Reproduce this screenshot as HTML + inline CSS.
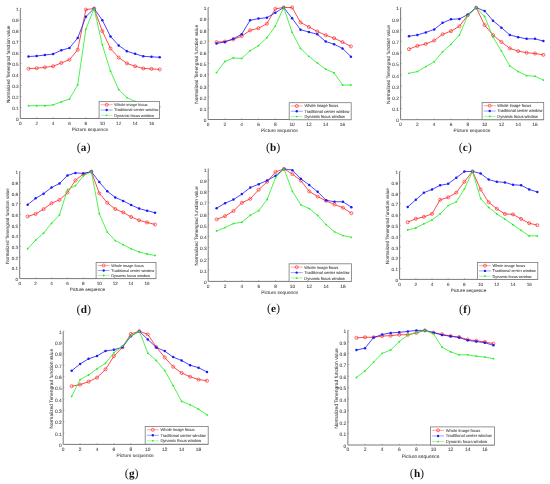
<!DOCTYPE html>
<html><head><meta charset="utf-8"><style>
html,body{margin:0;padding:0;background:#fff;}
svg{display:block;}
text{font-family:"Liberation Sans",Arial,sans-serif;fill:#3c3c3c;stroke:#3c3c3c;stroke-width:0.06px;text-rendering:geometricPrecision;}
text.lab{font-family:"Liberation Serif","Times New Roman",serif;font-weight:bold;font-size:11.2px;fill:#111;stroke:none;}
tspan.par{font-weight:normal;font-size:12.2px;fill:#222;}
</style></head><body>
<svg width="550" height="484" viewBox="0 0 550 484">
<rect width="550" height="484" fill="#fff"/>
<g id="pa"><path d="M20.3 8.5V118.5H159.5" fill="none" stroke="#7a7a7a" stroke-width="1"/><path d="M20.3 107.5h1.2M20.3 96.5h1.2M20.3 85.5h1.2M20.3 74.5h1.2M20.3 63.5h1.2M20.3 52.5h1.2M20.3 41.5h1.2M20.3 30.5h1.2M20.3 19.5h1.2M20.3 8.5h1.2M36.7 118.5v-1.2M53.1 118.5v-1.2M69.5 118.5v-1.2M85.9 118.5v-1.2M102.3 118.5v-1.2M118.7 118.5v-1.2M135.1 118.5v-1.2M151.5 118.5v-1.2" stroke="#7a7a7a" stroke-width="0.6"/><g text-anchor="end" font-size="4.71"><text x="18.7" y="121.09">0</text><text x="18.7" y="110.09">0.1</text><text x="18.7" y="99.09">0.2</text><text x="18.7" y="88.09">0.3</text><text x="18.7" y="77.09">0.4</text><text x="18.7" y="66.09">0.5</text><text x="18.7" y="55.09">0.6</text><text x="18.7" y="44.09">0.7</text><text x="18.7" y="33.09">0.8</text><text x="18.7" y="22.09">0.9</text><text x="18.7" y="11.09">1</text></g><g text-anchor="middle" font-size="4.71"><text x="20.3" y="124.79">0</text><text x="36.7" y="124.79">2</text><text x="53.1" y="124.79">4</text><text x="69.5" y="124.79">6</text><text x="85.9" y="124.79">8</text><text x="102.3" y="124.79">10</text><text x="118.7" y="124.79">12</text><text x="135.1" y="124.79">14</text><text x="151.5" y="124.79">16</text></g><text x="90" y="131.19" text-anchor="middle" font-size="4.71">Picture sequence</text><text transform="translate(8.2 64.3) rotate(-90)" y="1.69" text-anchor="middle" font-size="4.71">Normalized Tenengrad function value</text><polyline points="28.5,68.67 36.7,68.23 44.9,67.35 53.1,66.25 61.3,62.95 69.5,59.65 77.7,49.75 85.9,9.6 94.1,8.5 102.3,31.05 110.5,48.54 118.7,57.56 126.9,63.39 135.1,66.25 143.3,68.45 151.5,68.89 159.7,69.44" fill="none" stroke="#ff2020" stroke-width="0.8"/><circle cx="28.5" cy="68.67" r="1.55" fill="none" stroke="#ff2020" stroke-width="0.65"/><circle cx="36.7" cy="68.23" r="1.55" fill="none" stroke="#ff2020" stroke-width="0.65"/><circle cx="44.9" cy="67.35" r="1.55" fill="none" stroke="#ff2020" stroke-width="0.65"/><circle cx="53.1" cy="66.25" r="1.55" fill="none" stroke="#ff2020" stroke-width="0.65"/><circle cx="61.3" cy="62.95" r="1.55" fill="none" stroke="#ff2020" stroke-width="0.65"/><circle cx="69.5" cy="59.65" r="1.55" fill="none" stroke="#ff2020" stroke-width="0.65"/><circle cx="77.7" cy="49.75" r="1.55" fill="none" stroke="#ff2020" stroke-width="0.65"/><circle cx="85.9" cy="9.6" r="1.55" fill="none" stroke="#ff2020" stroke-width="0.65"/><circle cx="94.1" cy="8.5" r="1.55" fill="none" stroke="#ff2020" stroke-width="0.65"/><circle cx="102.3" cy="31.05" r="1.55" fill="none" stroke="#ff2020" stroke-width="0.65"/><circle cx="110.5" cy="48.54" r="1.55" fill="none" stroke="#ff2020" stroke-width="0.65"/><circle cx="118.7" cy="57.56" r="1.55" fill="none" stroke="#ff2020" stroke-width="0.65"/><circle cx="126.9" cy="63.39" r="1.55" fill="none" stroke="#ff2020" stroke-width="0.65"/><circle cx="135.1" cy="66.25" r="1.55" fill="none" stroke="#ff2020" stroke-width="0.65"/><circle cx="143.3" cy="68.45" r="1.55" fill="none" stroke="#ff2020" stroke-width="0.65"/><circle cx="151.5" cy="68.89" r="1.55" fill="none" stroke="#ff2020" stroke-width="0.65"/><circle cx="159.7" cy="69.44" r="1.55" fill="none" stroke="#ff2020" stroke-width="0.65"/><polyline points="28.5,56.57 36.7,56.02 44.9,55.03 53.1,54.04 61.3,50.3 69.5,47.88 77.7,38.09 85.9,16.64 94.1,8.5 102.3,20.16 110.5,36.44 118.7,45.46 126.9,51.29 135.1,53.82 143.3,56.35 151.5,56.79 159.7,57.34" fill="none" stroke="#1a1aff" stroke-width="0.8"/><circle cx="28.5" cy="56.57" r="1.25" fill="#1a1aff"/><circle cx="36.7" cy="56.02" r="1.25" fill="#1a1aff"/><circle cx="44.9" cy="55.03" r="1.25" fill="#1a1aff"/><circle cx="53.1" cy="54.04" r="1.25" fill="#1a1aff"/><circle cx="61.3" cy="50.3" r="1.25" fill="#1a1aff"/><circle cx="69.5" cy="47.88" r="1.25" fill="#1a1aff"/><circle cx="77.7" cy="38.09" r="1.25" fill="#1a1aff"/><circle cx="85.9" cy="16.64" r="1.25" fill="#1a1aff"/><circle cx="94.1" cy="8.5" r="1.25" fill="#1a1aff"/><circle cx="102.3" cy="20.16" r="1.25" fill="#1a1aff"/><circle cx="110.5" cy="36.44" r="1.25" fill="#1a1aff"/><circle cx="118.7" cy="45.46" r="1.25" fill="#1a1aff"/><circle cx="126.9" cy="51.29" r="1.25" fill="#1a1aff"/><circle cx="135.1" cy="53.82" r="1.25" fill="#1a1aff"/><circle cx="143.3" cy="56.35" r="1.25" fill="#1a1aff"/><circle cx="151.5" cy="56.79" r="1.25" fill="#1a1aff"/><circle cx="159.7" cy="57.34" r="1.25" fill="#1a1aff"/><polyline points="28.5,105.74 36.7,105.74 44.9,105.74 53.1,104.86 61.3,101.89 69.5,99.03 77.7,84.95 85.9,29.18 94.1,8.5 102.3,44.8 110.5,71.2 118.7,89.57 126.9,97.6 135.1,101.45 143.3,104.2 151.5,105.85 159.7,106.73" fill="none" stroke="#22ee22" stroke-width="0.8"/><circle cx="28.5" cy="105.74" r="0.9" fill="#22ee22"/><circle cx="36.7" cy="105.74" r="0.9" fill="#22ee22"/><circle cx="44.9" cy="105.74" r="0.9" fill="#22ee22"/><circle cx="53.1" cy="104.86" r="0.9" fill="#22ee22"/><circle cx="61.3" cy="101.89" r="0.9" fill="#22ee22"/><circle cx="69.5" cy="99.03" r="0.9" fill="#22ee22"/><circle cx="77.7" cy="84.95" r="0.9" fill="#22ee22"/><circle cx="85.9" cy="29.18" r="0.9" fill="#22ee22"/><circle cx="94.1" cy="8.5" r="0.9" fill="#22ee22"/><circle cx="102.3" cy="44.8" r="0.9" fill="#22ee22"/><circle cx="110.5" cy="71.2" r="0.9" fill="#22ee22"/><circle cx="118.7" cy="89.57" r="0.9" fill="#22ee22"/><circle cx="126.9" cy="97.6" r="0.9" fill="#22ee22"/><circle cx="135.1" cy="101.45" r="0.9" fill="#22ee22"/><circle cx="143.3" cy="104.2" r="0.9" fill="#22ee22"/><circle cx="151.5" cy="105.85" r="0.9" fill="#22ee22"/><circle cx="159.7" cy="106.73" r="0.9" fill="#22ee22"/><rect x="99.1" y="101.5" width="60.4" height="17.1" fill="#fff" stroke="#7a7a7a" stroke-width="0.8"/><path d="M100.7 104.75H112.7" stroke="#ff2020" stroke-width="0.5" stroke-opacity="0.8"/><circle cx="106.7" cy="104.75" r="1.5" fill="none" stroke="#ff2020" stroke-width="0.65"/><text x="114.3" y="106.16" font-size="3.91">Whole image focus</text><path d="M100.7 110.05H112.7" stroke="#1a1aff" stroke-width="0.5" stroke-opacity="0.8"/><circle cx="106.7" cy="110.05" r="1.2" fill="#1a1aff"/><text x="114.3" y="111.46" font-size="3.91">Traditional center window</text><path d="M100.7 115.35H112.7" stroke="#22ee22" stroke-width="0.5" stroke-opacity="0.8"/><circle cx="106.7" cy="115.35" r="0.9" fill="#22ee22"/><text x="114.3" y="116.76" font-size="3.91">Dynamic focus window</text><text x="83.6" y="150.8" text-anchor="middle" class="lab"><tspan class="par">(</tspan>a<tspan class="par">)</tspan></text></g>
<g id="pb"><path d="M208.1 7.5V119.5H351.2" fill="none" stroke="#7a7a7a" stroke-width="1"/><path d="M208.1 108.3h1.2M208.1 97.1h1.2M208.1 85.9h1.2M208.1 74.7h1.2M208.1 63.5h1.2M208.1 52.3h1.2M208.1 41.1h1.2M208.1 29.9h1.2M208.1 18.7h1.2M208.1 7.5h1.2M224.9 119.5v-1.2M241.7 119.5v-1.2M258.5 119.5v-1.2M275.3 119.5v-1.2M292.1 119.5v-1.2M308.9 119.5v-1.2M325.7 119.5v-1.2M342.5 119.5v-1.2" stroke="#7a7a7a" stroke-width="0.6"/><g text-anchor="end" font-size="4.79"><text x="206.5" y="122.13">0</text><text x="206.5" y="110.93">0.1</text><text x="206.5" y="99.73">0.2</text><text x="206.5" y="88.53">0.3</text><text x="206.5" y="77.33">0.4</text><text x="206.5" y="66.13">0.5</text><text x="206.5" y="54.93">0.6</text><text x="206.5" y="43.73">0.7</text><text x="206.5" y="32.53">0.8</text><text x="206.5" y="21.33">0.9</text><text x="206.5" y="10.13">1</text></g><g text-anchor="middle" font-size="4.79"><text x="208.1" y="125.83">0</text><text x="224.9" y="125.83">2</text><text x="241.7" y="125.83">4</text><text x="258.5" y="125.83">6</text><text x="275.3" y="125.83">8</text><text x="292.1" y="125.83">10</text><text x="308.9" y="125.83">12</text><text x="325.7" y="125.83">14</text><text x="342.5" y="125.83">16</text></g><text x="279.5" y="132.23" text-anchor="middle" font-size="4.79">Picture sequence</text><text transform="translate(196 64.3) rotate(-90)" y="1.73" text-anchor="middle" font-size="4.79">Normalized Tenengrad function value</text><polyline points="216.5,42.11 224.9,41.55 233.3,39.42 241.7,36.06 250.1,30.35 258.5,28.22 266.9,23.74 275.3,8.84 283.7,7.5 292.1,7.5 300.5,22.4 308.9,26.99 317.3,31.47 325.7,35.16 334.1,38.19 342.5,42.11 350.9,46.36" fill="none" stroke="#ff2020" stroke-width="0.8"/><circle cx="216.5" cy="42.11" r="1.55" fill="none" stroke="#ff2020" stroke-width="0.65"/><circle cx="224.9" cy="41.55" r="1.55" fill="none" stroke="#ff2020" stroke-width="0.65"/><circle cx="233.3" cy="39.42" r="1.55" fill="none" stroke="#ff2020" stroke-width="0.65"/><circle cx="241.7" cy="36.06" r="1.55" fill="none" stroke="#ff2020" stroke-width="0.65"/><circle cx="250.1" cy="30.35" r="1.55" fill="none" stroke="#ff2020" stroke-width="0.65"/><circle cx="258.5" cy="28.22" r="1.55" fill="none" stroke="#ff2020" stroke-width="0.65"/><circle cx="266.9" cy="23.74" r="1.55" fill="none" stroke="#ff2020" stroke-width="0.65"/><circle cx="275.3" cy="8.84" r="1.55" fill="none" stroke="#ff2020" stroke-width="0.65"/><circle cx="283.7" cy="7.5" r="1.55" fill="none" stroke="#ff2020" stroke-width="0.65"/><circle cx="292.1" cy="7.5" r="1.55" fill="none" stroke="#ff2020" stroke-width="0.65"/><circle cx="300.5" cy="22.4" r="1.55" fill="none" stroke="#ff2020" stroke-width="0.65"/><circle cx="308.9" cy="26.99" r="1.55" fill="none" stroke="#ff2020" stroke-width="0.65"/><circle cx="317.3" cy="31.47" r="1.55" fill="none" stroke="#ff2020" stroke-width="0.65"/><circle cx="325.7" cy="35.16" r="1.55" fill="none" stroke="#ff2020" stroke-width="0.65"/><circle cx="334.1" cy="38.19" r="1.55" fill="none" stroke="#ff2020" stroke-width="0.65"/><circle cx="342.5" cy="42.11" r="1.55" fill="none" stroke="#ff2020" stroke-width="0.65"/><circle cx="350.9" cy="46.36" r="1.55" fill="none" stroke="#ff2020" stroke-width="0.65"/><polyline points="216.5,43.56 224.9,41.88 233.3,38.86 241.7,34.16 250.1,20.27 258.5,18.59 266.9,17.69 275.3,12.76 283.7,7.5 292.1,18.25 300.5,29.68 308.9,32.03 317.3,34.27 325.7,41.55 334.1,44.24 342.5,48.38 350.9,56.67" fill="none" stroke="#1a1aff" stroke-width="0.8"/><circle cx="216.5" cy="43.56" r="1.25" fill="#1a1aff"/><circle cx="224.9" cy="41.88" r="1.25" fill="#1a1aff"/><circle cx="233.3" cy="38.86" r="1.25" fill="#1a1aff"/><circle cx="241.7" cy="34.16" r="1.25" fill="#1a1aff"/><circle cx="250.1" cy="20.27" r="1.25" fill="#1a1aff"/><circle cx="258.5" cy="18.59" r="1.25" fill="#1a1aff"/><circle cx="266.9" cy="17.69" r="1.25" fill="#1a1aff"/><circle cx="275.3" cy="12.76" r="1.25" fill="#1a1aff"/><circle cx="283.7" cy="7.5" r="1.25" fill="#1a1aff"/><circle cx="292.1" cy="18.25" r="1.25" fill="#1a1aff"/><circle cx="300.5" cy="29.68" r="1.25" fill="#1a1aff"/><circle cx="308.9" cy="32.03" r="1.25" fill="#1a1aff"/><circle cx="317.3" cy="34.27" r="1.25" fill="#1a1aff"/><circle cx="325.7" cy="41.55" r="1.25" fill="#1a1aff"/><circle cx="334.1" cy="44.24" r="1.25" fill="#1a1aff"/><circle cx="342.5" cy="48.38" r="1.25" fill="#1a1aff"/><circle cx="350.9" cy="56.67" r="1.25" fill="#1a1aff"/><polyline points="216.5,72.57 224.9,61.48 233.3,58.01 241.7,58.46 250.1,50.73 258.5,45.69 266.9,37.74 275.3,26.09 283.7,7.5 292.1,32.36 300.5,48.38 308.9,56.33 317.3,62.94 325.7,69.21 334.1,72.91 342.5,85 350.9,85" fill="none" stroke="#22ee22" stroke-width="0.8"/><circle cx="216.5" cy="72.57" r="0.9" fill="#22ee22"/><circle cx="224.9" cy="61.48" r="0.9" fill="#22ee22"/><circle cx="233.3" cy="58.01" r="0.9" fill="#22ee22"/><circle cx="241.7" cy="58.46" r="0.9" fill="#22ee22"/><circle cx="250.1" cy="50.73" r="0.9" fill="#22ee22"/><circle cx="258.5" cy="45.69" r="0.9" fill="#22ee22"/><circle cx="266.9" cy="37.74" r="0.9" fill="#22ee22"/><circle cx="275.3" cy="26.09" r="0.9" fill="#22ee22"/><circle cx="283.7" cy="7.5" r="0.9" fill="#22ee22"/><circle cx="292.1" cy="32.36" r="0.9" fill="#22ee22"/><circle cx="300.5" cy="48.38" r="0.9" fill="#22ee22"/><circle cx="308.9" cy="56.33" r="0.9" fill="#22ee22"/><circle cx="317.3" cy="62.94" r="0.9" fill="#22ee22"/><circle cx="325.7" cy="69.21" r="0.9" fill="#22ee22"/><circle cx="334.1" cy="72.91" r="0.9" fill="#22ee22"/><circle cx="342.5" cy="85" r="0.9" fill="#22ee22"/><circle cx="350.9" cy="85" r="0.9" fill="#22ee22"/><rect x="289.2" y="102.7" width="62" height="17.1" fill="#fff" stroke="#7a7a7a" stroke-width="0.8"/><path d="M290.8 105.95H302.8" stroke="#ff2020" stroke-width="0.5" stroke-opacity="0.8"/><circle cx="296.8" cy="105.95" r="1.5" fill="none" stroke="#ff2020" stroke-width="0.65"/><text x="304.4" y="107.38" font-size="3.99">Whole image focus</text><path d="M290.8 111.25H302.8" stroke="#1a1aff" stroke-width="0.5" stroke-opacity="0.8"/><circle cx="296.8" cy="111.25" r="1.2" fill="#1a1aff"/><text x="304.4" y="112.68" font-size="3.99">Traditional center window</text><path d="M290.8 116.55H302.8" stroke="#22ee22" stroke-width="0.5" stroke-opacity="0.8"/><circle cx="296.8" cy="116.55" r="0.9" fill="#22ee22"/><text x="304.4" y="117.99" font-size="3.99">Dynamic focus window</text><text x="273.2" y="150.8" text-anchor="middle" class="lab"><tspan class="par">(</tspan>b<tspan class="par">)</tspan></text></g>
<g id="pc"><path d="M400.6 7.7V119.7H543.7" fill="none" stroke="#7a7a7a" stroke-width="1"/><path d="M400.6 108.5h1.2M400.6 97.3h1.2M400.6 86.1h1.2M400.6 74.9h1.2M400.6 63.7h1.2M400.6 52.5h1.2M400.6 41.3h1.2M400.6 30.1h1.2M400.6 18.9h1.2M400.6 7.7h1.2M417.4 119.7v-1.2M434.2 119.7v-1.2M451 119.7v-1.2M467.8 119.7v-1.2M484.6 119.7v-1.2M501.4 119.7v-1.2M518.2 119.7v-1.2M535 119.7v-1.2" stroke="#7a7a7a" stroke-width="0.6"/><g text-anchor="end" font-size="4.79"><text x="399" y="122.33">0</text><text x="399" y="111.13">0.1</text><text x="399" y="99.93">0.2</text><text x="399" y="88.73">0.3</text><text x="399" y="77.53">0.4</text><text x="399" y="66.33">0.5</text><text x="399" y="55.13">0.6</text><text x="399" y="43.93">0.7</text><text x="399" y="32.73">0.8</text><text x="399" y="21.53">0.9</text><text x="399" y="10.33">1</text></g><g text-anchor="middle" font-size="4.79"><text x="400.6" y="126.03">0</text><text x="417.4" y="126.03">2</text><text x="434.2" y="126.03">4</text><text x="451" y="126.03">6</text><text x="467.8" y="126.03">8</text><text x="484.6" y="126.03">10</text><text x="501.4" y="126.03">12</text><text x="518.2" y="126.03">14</text><text x="535" y="126.03">16</text></g><text x="472" y="132.43" text-anchor="middle" font-size="4.79">Picture sequence</text><text transform="translate(388.5 64.5) rotate(-90)" y="1.73" text-anchor="middle" font-size="4.79">Normalized Tenengrad function value</text><polyline points="409,49.14 417.4,45.89 425.8,43.88 434.2,40.52 442.6,34.24 451,31.11 459.4,26.29 467.8,15.2 476.2,7.7 484.6,25.06 493,35.14 501.4,41.97 509.8,48.36 518.2,51.16 526.6,52.72 535,53.51 543.4,54.85" fill="none" stroke="#ff2020" stroke-width="0.8"/><circle cx="409" cy="49.14" r="1.55" fill="none" stroke="#ff2020" stroke-width="0.65"/><circle cx="417.4" cy="45.89" r="1.55" fill="none" stroke="#ff2020" stroke-width="0.65"/><circle cx="425.8" cy="43.88" r="1.55" fill="none" stroke="#ff2020" stroke-width="0.65"/><circle cx="434.2" cy="40.52" r="1.55" fill="none" stroke="#ff2020" stroke-width="0.65"/><circle cx="442.6" cy="34.24" r="1.55" fill="none" stroke="#ff2020" stroke-width="0.65"/><circle cx="451" cy="31.11" r="1.55" fill="none" stroke="#ff2020" stroke-width="0.65"/><circle cx="459.4" cy="26.29" r="1.55" fill="none" stroke="#ff2020" stroke-width="0.65"/><circle cx="467.8" cy="15.2" r="1.55" fill="none" stroke="#ff2020" stroke-width="0.65"/><circle cx="476.2" cy="7.7" r="1.55" fill="none" stroke="#ff2020" stroke-width="0.65"/><circle cx="484.6" cy="25.06" r="1.55" fill="none" stroke="#ff2020" stroke-width="0.65"/><circle cx="493" cy="35.14" r="1.55" fill="none" stroke="#ff2020" stroke-width="0.65"/><circle cx="501.4" cy="41.97" r="1.55" fill="none" stroke="#ff2020" stroke-width="0.65"/><circle cx="509.8" cy="48.36" r="1.55" fill="none" stroke="#ff2020" stroke-width="0.65"/><circle cx="518.2" cy="51.16" r="1.55" fill="none" stroke="#ff2020" stroke-width="0.65"/><circle cx="526.6" cy="52.72" r="1.55" fill="none" stroke="#ff2020" stroke-width="0.65"/><circle cx="535" cy="53.51" r="1.55" fill="none" stroke="#ff2020" stroke-width="0.65"/><circle cx="543.4" cy="54.85" r="1.55" fill="none" stroke="#ff2020" stroke-width="0.65"/><polyline points="409,36.15 417.4,34.92 425.8,32.45 434.2,29.43 442.6,22.82 451,19.35 459.4,18.9 467.8,14.64 476.2,7.7 484.6,10.95 493,20.69 501.4,27.64 509.8,34.92 518.2,37.16 526.6,38.84 535,38.84 543.4,41.08" fill="none" stroke="#1a1aff" stroke-width="0.8"/><circle cx="409" cy="36.15" r="1.25" fill="#1a1aff"/><circle cx="417.4" cy="34.92" r="1.25" fill="#1a1aff"/><circle cx="425.8" cy="32.45" r="1.25" fill="#1a1aff"/><circle cx="434.2" cy="29.43" r="1.25" fill="#1a1aff"/><circle cx="442.6" cy="22.82" r="1.25" fill="#1a1aff"/><circle cx="451" cy="19.35" r="1.25" fill="#1a1aff"/><circle cx="459.4" cy="18.9" r="1.25" fill="#1a1aff"/><circle cx="467.8" cy="14.64" r="1.25" fill="#1a1aff"/><circle cx="476.2" cy="7.7" r="1.25" fill="#1a1aff"/><circle cx="484.6" cy="10.95" r="1.25" fill="#1a1aff"/><circle cx="493" cy="20.69" r="1.25" fill="#1a1aff"/><circle cx="501.4" cy="27.64" r="1.25" fill="#1a1aff"/><circle cx="509.8" cy="34.92" r="1.25" fill="#1a1aff"/><circle cx="518.2" cy="37.16" r="1.25" fill="#1a1aff"/><circle cx="526.6" cy="38.84" r="1.25" fill="#1a1aff"/><circle cx="535" cy="38.84" r="1.25" fill="#1a1aff"/><circle cx="543.4" cy="41.08" r="1.25" fill="#1a1aff"/><polyline points="409,73.33 417.4,71.54 425.8,66.61 434.2,61.8 442.6,51.83 451,44.32 459.4,35.03 467.8,15.54 476.2,7.7 484.6,16.44 493,37.16 501.4,50.93 509.8,66.05 518.2,71.54 526.6,75.68 535,76.24 543.4,80.05" fill="none" stroke="#22ee22" stroke-width="0.8"/><circle cx="409" cy="73.33" r="0.9" fill="#22ee22"/><circle cx="417.4" cy="71.54" r="0.9" fill="#22ee22"/><circle cx="425.8" cy="66.61" r="0.9" fill="#22ee22"/><circle cx="434.2" cy="61.8" r="0.9" fill="#22ee22"/><circle cx="442.6" cy="51.83" r="0.9" fill="#22ee22"/><circle cx="451" cy="44.32" r="0.9" fill="#22ee22"/><circle cx="459.4" cy="35.03" r="0.9" fill="#22ee22"/><circle cx="467.8" cy="15.54" r="0.9" fill="#22ee22"/><circle cx="476.2" cy="7.7" r="0.9" fill="#22ee22"/><circle cx="484.6" cy="16.44" r="0.9" fill="#22ee22"/><circle cx="493" cy="37.16" r="0.9" fill="#22ee22"/><circle cx="501.4" cy="50.93" r="0.9" fill="#22ee22"/><circle cx="509.8" cy="66.05" r="0.9" fill="#22ee22"/><circle cx="518.2" cy="71.54" r="0.9" fill="#22ee22"/><circle cx="526.6" cy="75.68" r="0.9" fill="#22ee22"/><circle cx="535" cy="76.24" r="0.9" fill="#22ee22"/><circle cx="543.4" cy="80.05" r="0.9" fill="#22ee22"/><rect x="482.1" y="102.4" width="61.6" height="17.3" fill="#fff" stroke="#7a7a7a" stroke-width="0.8"/><path d="M483.7 105.69H495.7" stroke="#ff2020" stroke-width="0.5" stroke-opacity="0.8"/><circle cx="489.7" cy="105.69" r="1.5" fill="none" stroke="#ff2020" stroke-width="0.65"/><text x="497.3" y="107.12" font-size="3.99">Whole image focus</text><path d="M483.7 111.05H495.7" stroke="#1a1aff" stroke-width="0.5" stroke-opacity="0.8"/><circle cx="489.7" cy="111.05" r="1.2" fill="#1a1aff"/><text x="497.3" y="112.48" font-size="3.99">Traditional center window</text><path d="M483.7 116.41H495.7" stroke="#22ee22" stroke-width="0.5" stroke-opacity="0.8"/><circle cx="489.7" cy="116.41" r="0.9" fill="#22ee22"/><text x="497.3" y="117.85" font-size="3.99">Dynamic focus window</text><text x="465.3" y="150.8" text-anchor="middle" class="lab"><tspan class="par">(</tspan>c<tspan class="par">)</tspan></text></g>
<g id="pd"><path d="M19.7 171.6V278.6H156" fill="none" stroke="#7a7a7a" stroke-width="1"/><path d="M19.7 267.9h1.2M19.7 257.2h1.2M19.7 246.5h1.2M19.7 235.8h1.2M19.7 225.1h1.2M19.7 214.4h1.2M19.7 203.7h1.2M19.7 193h1.2M19.7 182.3h1.2M19.7 171.6h1.2M35.62 278.6v-1.2M51.54 278.6v-1.2M67.46 278.6v-1.2M83.38 278.6v-1.2M99.3 278.6v-1.2M115.22 278.6v-1.2M131.14 278.6v-1.2M147.06 278.6v-1.2" stroke="#7a7a7a" stroke-width="0.6"/><g text-anchor="end" font-size="4.58"><text x="18.1" y="281.15">0</text><text x="18.1" y="270.45">0.1</text><text x="18.1" y="259.75">0.2</text><text x="18.1" y="249.05">0.3</text><text x="18.1" y="238.35">0.4</text><text x="18.1" y="227.65">0.5</text><text x="18.1" y="216.95">0.6</text><text x="18.1" y="206.25">0.7</text><text x="18.1" y="195.55">0.8</text><text x="18.1" y="184.85">0.9</text><text x="18.1" y="174.15">1</text></g><g text-anchor="middle" font-size="4.58"><text x="19.7" y="284.85">0</text><text x="35.62" y="284.85">2</text><text x="51.54" y="284.85">4</text><text x="67.46" y="284.85">6</text><text x="83.38" y="284.85">8</text><text x="99.3" y="284.85">10</text><text x="115.22" y="284.85">12</text><text x="131.14" y="284.85">14</text><text x="147.06" y="284.85">16</text></g><text x="87.36" y="291.25" text-anchor="middle" font-size="4.58">Picture sequence</text><text transform="translate(7.6 225.9) rotate(-90)" y="1.65" text-anchor="middle" font-size="4.58">Normalized Tenengrad function value</text><polyline points="27.66,216.43 35.62,213.97 43.58,209.16 51.54,203.27 59.5,199.85 67.46,192.57 75.42,180.37 83.38,174.06 91.34,171.6 99.3,193.32 107.26,202.74 115.22,209.05 123.18,212.37 131.14,216.97 139.1,220.29 147.06,222.43 155.02,224.46" fill="none" stroke="#ff2020" stroke-width="0.8"/><circle cx="27.66" cy="216.43" r="1.55" fill="none" stroke="#ff2020" stroke-width="0.65"/><circle cx="35.62" cy="213.97" r="1.55" fill="none" stroke="#ff2020" stroke-width="0.65"/><circle cx="43.58" cy="209.16" r="1.55" fill="none" stroke="#ff2020" stroke-width="0.65"/><circle cx="51.54" cy="203.27" r="1.55" fill="none" stroke="#ff2020" stroke-width="0.65"/><circle cx="59.5" cy="199.85" r="1.55" fill="none" stroke="#ff2020" stroke-width="0.65"/><circle cx="67.46" cy="192.57" r="1.55" fill="none" stroke="#ff2020" stroke-width="0.65"/><circle cx="75.42" cy="180.37" r="1.55" fill="none" stroke="#ff2020" stroke-width="0.65"/><circle cx="83.38" cy="174.06" r="1.55" fill="none" stroke="#ff2020" stroke-width="0.65"/><circle cx="91.34" cy="171.6" r="1.55" fill="none" stroke="#ff2020" stroke-width="0.65"/><circle cx="99.3" cy="193.32" r="1.55" fill="none" stroke="#ff2020" stroke-width="0.65"/><circle cx="107.26" cy="202.74" r="1.55" fill="none" stroke="#ff2020" stroke-width="0.65"/><circle cx="115.22" cy="209.05" r="1.55" fill="none" stroke="#ff2020" stroke-width="0.65"/><circle cx="123.18" cy="212.37" r="1.55" fill="none" stroke="#ff2020" stroke-width="0.65"/><circle cx="131.14" cy="216.97" r="1.55" fill="none" stroke="#ff2020" stroke-width="0.65"/><circle cx="139.1" cy="220.29" r="1.55" fill="none" stroke="#ff2020" stroke-width="0.65"/><circle cx="147.06" cy="222.43" r="1.55" fill="none" stroke="#ff2020" stroke-width="0.65"/><circle cx="155.02" cy="224.46" r="1.55" fill="none" stroke="#ff2020" stroke-width="0.65"/><polyline points="27.66,204.66 35.62,198.35 43.58,193.64 51.54,187.54 59.5,183.48 67.46,175.45 75.42,172.88 83.38,173.42 91.34,171.6 99.3,182.09 107.26,191.29 115.22,197.39 123.18,200.92 131.14,204.98 139.1,208.62 147.06,210.66 155.02,212.8" fill="none" stroke="#1a1aff" stroke-width="0.8"/><circle cx="27.66" cy="204.66" r="1.25" fill="#1a1aff"/><circle cx="35.62" cy="198.35" r="1.25" fill="#1a1aff"/><circle cx="43.58" cy="193.64" r="1.25" fill="#1a1aff"/><circle cx="51.54" cy="187.54" r="1.25" fill="#1a1aff"/><circle cx="59.5" cy="183.48" r="1.25" fill="#1a1aff"/><circle cx="67.46" cy="175.45" r="1.25" fill="#1a1aff"/><circle cx="75.42" cy="172.88" r="1.25" fill="#1a1aff"/><circle cx="83.38" cy="173.42" r="1.25" fill="#1a1aff"/><circle cx="91.34" cy="171.6" r="1.25" fill="#1a1aff"/><circle cx="99.3" cy="182.09" r="1.25" fill="#1a1aff"/><circle cx="107.26" cy="191.29" r="1.25" fill="#1a1aff"/><circle cx="115.22" cy="197.39" r="1.25" fill="#1a1aff"/><circle cx="123.18" cy="200.92" r="1.25" fill="#1a1aff"/><circle cx="131.14" cy="204.98" r="1.25" fill="#1a1aff"/><circle cx="139.1" cy="208.62" r="1.25" fill="#1a1aff"/><circle cx="147.06" cy="210.66" r="1.25" fill="#1a1aff"/><circle cx="155.02" cy="212.8" r="1.25" fill="#1a1aff"/><polyline points="27.66,248.75 35.62,240.19 43.58,233.13 51.54,223.28 59.5,214.94 67.46,189.58 75.42,185.72 83.38,175.77 91.34,171.6 99.3,213.65 107.26,232.06 115.22,240.62 123.18,244.68 131.14,248.85 139.1,251.96 147.06,253.99 155.02,255.49" fill="none" stroke="#22ee22" stroke-width="0.8"/><circle cx="27.66" cy="248.75" r="0.9" fill="#22ee22"/><circle cx="35.62" cy="240.19" r="0.9" fill="#22ee22"/><circle cx="43.58" cy="233.13" r="0.9" fill="#22ee22"/><circle cx="51.54" cy="223.28" r="0.9" fill="#22ee22"/><circle cx="59.5" cy="214.94" r="0.9" fill="#22ee22"/><circle cx="67.46" cy="189.58" r="0.9" fill="#22ee22"/><circle cx="75.42" cy="185.72" r="0.9" fill="#22ee22"/><circle cx="83.38" cy="175.77" r="0.9" fill="#22ee22"/><circle cx="91.34" cy="171.6" r="0.9" fill="#22ee22"/><circle cx="99.3" cy="213.65" r="0.9" fill="#22ee22"/><circle cx="107.26" cy="232.06" r="0.9" fill="#22ee22"/><circle cx="115.22" cy="240.62" r="0.9" fill="#22ee22"/><circle cx="123.18" cy="244.68" r="0.9" fill="#22ee22"/><circle cx="131.14" cy="248.85" r="0.9" fill="#22ee22"/><circle cx="139.1" cy="251.96" r="0.9" fill="#22ee22"/><circle cx="147.06" cy="253.99" r="0.9" fill="#22ee22"/><circle cx="155.02" cy="255.49" r="0.9" fill="#22ee22"/><rect x="96.1" y="262.4" width="59.9" height="16.2" fill="#fff" stroke="#7a7a7a" stroke-width="0.8"/><path d="M97.7 265.48H109.7" stroke="#ff2020" stroke-width="0.5" stroke-opacity="0.8"/><circle cx="103.7" cy="265.48" r="1.5" fill="none" stroke="#ff2020" stroke-width="0.65"/><text x="111.3" y="266.85" font-size="3.81">Whole image focus</text><path d="M97.7 270.5H109.7" stroke="#1a1aff" stroke-width="0.5" stroke-opacity="0.8"/><circle cx="103.7" cy="270.5" r="1.2" fill="#1a1aff"/><text x="111.3" y="271.87" font-size="3.81">Traditional center window</text><path d="M97.7 275.52H109.7" stroke="#22ee22" stroke-width="0.5" stroke-opacity="0.8"/><circle cx="103.7" cy="275.52" r="0.9" fill="#22ee22"/><text x="111.3" y="276.89" font-size="3.81">Dynamic focus window</text><text x="83.8" y="312.5" text-anchor="middle" class="lab"><tspan class="par">(</tspan>d<tspan class="par">)</tspan></text></g>
<g id="pe"><path d="M208.2 168.9V281.4H351.4" fill="none" stroke="#7a7a7a" stroke-width="1"/><path d="M208.2 270.15h1.2M208.2 258.9h1.2M208.2 247.65h1.2M208.2 236.4h1.2M208.2 225.15h1.2M208.2 213.9h1.2M208.2 202.65h1.2M208.2 191.4h1.2M208.2 180.15h1.2M208.2 168.9h1.2M225.04 281.4v-1.2M241.88 281.4v-1.2M258.72 281.4v-1.2M275.56 281.4v-1.2M292.4 281.4v-1.2M309.24 281.4v-1.2M326.08 281.4v-1.2M342.92 281.4v-1.2" stroke="#7a7a7a" stroke-width="0.6"/><g text-anchor="end" font-size="4.81"><text x="206.6" y="284.03">0</text><text x="206.6" y="272.78">0.1</text><text x="206.6" y="261.53">0.2</text><text x="206.6" y="250.28">0.3</text><text x="206.6" y="239.03">0.4</text><text x="206.6" y="227.78">0.5</text><text x="206.6" y="216.53">0.6</text><text x="206.6" y="205.28">0.7</text><text x="206.6" y="194.03">0.8</text><text x="206.6" y="182.78">0.9</text><text x="206.6" y="171.53">1</text></g><g text-anchor="middle" font-size="4.81"><text x="208.2" y="287.73">0</text><text x="225.04" y="287.73">2</text><text x="241.88" y="287.73">4</text><text x="258.72" y="287.73">6</text><text x="275.56" y="287.73">8</text><text x="292.4" y="287.73">10</text><text x="309.24" y="287.73">12</text><text x="326.08" y="287.73">14</text><text x="342.92" y="287.73">16</text></g><text x="279.77" y="294.13" text-anchor="middle" font-size="4.81">Picture sequence</text><text transform="translate(196.1 225.95) rotate(-90)" y="1.73" text-anchor="middle" font-size="4.81">Normalized Tenengrad function value</text><polyline points="216.62,219.41 225.04,216.15 233.46,210.97 241.88,202.76 250.3,198.82 258.72,189.71 267.14,181.72 275.56,171.94 283.98,168.9 292.4,174.07 300.82,180.49 309.24,191.4 317.66,196.57 326.08,200.85 334.5,204.56 342.92,207.71 351.34,213.22" fill="none" stroke="#ff2020" stroke-width="0.8"/><circle cx="216.62" cy="219.41" r="1.55" fill="none" stroke="#ff2020" stroke-width="0.65"/><circle cx="225.04" cy="216.15" r="1.55" fill="none" stroke="#ff2020" stroke-width="0.65"/><circle cx="233.46" cy="210.97" r="1.55" fill="none" stroke="#ff2020" stroke-width="0.65"/><circle cx="241.88" cy="202.76" r="1.55" fill="none" stroke="#ff2020" stroke-width="0.65"/><circle cx="250.3" cy="198.82" r="1.55" fill="none" stroke="#ff2020" stroke-width="0.65"/><circle cx="258.72" cy="189.71" r="1.55" fill="none" stroke="#ff2020" stroke-width="0.65"/><circle cx="267.14" cy="181.72" r="1.55" fill="none" stroke="#ff2020" stroke-width="0.65"/><circle cx="275.56" cy="171.94" r="1.55" fill="none" stroke="#ff2020" stroke-width="0.65"/><circle cx="283.98" cy="168.9" r="1.55" fill="none" stroke="#ff2020" stroke-width="0.65"/><circle cx="292.4" cy="174.07" r="1.55" fill="none" stroke="#ff2020" stroke-width="0.65"/><circle cx="300.82" cy="180.49" r="1.55" fill="none" stroke="#ff2020" stroke-width="0.65"/><circle cx="309.24" cy="191.4" r="1.55" fill="none" stroke="#ff2020" stroke-width="0.65"/><circle cx="317.66" cy="196.57" r="1.55" fill="none" stroke="#ff2020" stroke-width="0.65"/><circle cx="326.08" cy="200.85" r="1.55" fill="none" stroke="#ff2020" stroke-width="0.65"/><circle cx="334.5" cy="204.56" r="1.55" fill="none" stroke="#ff2020" stroke-width="0.65"/><circle cx="342.92" cy="207.71" r="1.55" fill="none" stroke="#ff2020" stroke-width="0.65"/><circle cx="351.34" cy="213.22" r="1.55" fill="none" stroke="#ff2020" stroke-width="0.65"/><polyline points="216.62,208.16 225.04,203.21 233.46,199.61 241.88,194.1 250.3,187.57 258.72,184.2 267.14,180.49 275.56,175.76 283.98,168.9 292.4,170.14 300.82,178.8 309.24,184.99 317.66,191.85 326.08,200.29 334.5,201.75 342.92,201.75 351.34,207.15" fill="none" stroke="#1a1aff" stroke-width="0.8"/><circle cx="216.62" cy="208.16" r="1.25" fill="#1a1aff"/><circle cx="225.04" cy="203.21" r="1.25" fill="#1a1aff"/><circle cx="233.46" cy="199.61" r="1.25" fill="#1a1aff"/><circle cx="241.88" cy="194.1" r="1.25" fill="#1a1aff"/><circle cx="250.3" cy="187.57" r="1.25" fill="#1a1aff"/><circle cx="258.72" cy="184.2" r="1.25" fill="#1a1aff"/><circle cx="267.14" cy="180.49" r="1.25" fill="#1a1aff"/><circle cx="275.56" cy="175.76" r="1.25" fill="#1a1aff"/><circle cx="283.98" cy="168.9" r="1.25" fill="#1a1aff"/><circle cx="292.4" cy="170.14" r="1.25" fill="#1a1aff"/><circle cx="300.82" cy="178.8" r="1.25" fill="#1a1aff"/><circle cx="309.24" cy="184.99" r="1.25" fill="#1a1aff"/><circle cx="317.66" cy="191.85" r="1.25" fill="#1a1aff"/><circle cx="326.08" cy="200.29" r="1.25" fill="#1a1aff"/><circle cx="334.5" cy="201.75" r="1.25" fill="#1a1aff"/><circle cx="342.92" cy="201.75" r="1.25" fill="#1a1aff"/><circle cx="351.34" cy="207.15" r="1.25" fill="#1a1aff"/><polyline points="216.62,230.89 225.04,227.62 233.46,223.57 241.88,222.22 250.3,215.25 258.72,210.64 267.14,199.5 275.56,177.56 283.98,168.9 292.4,191.4 300.82,204.79 309.24,208.61 317.66,215.47 326.08,224.59 334.5,231.79 342.92,235.61 351.34,237.3" fill="none" stroke="#22ee22" stroke-width="0.8"/><circle cx="216.62" cy="230.89" r="0.9" fill="#22ee22"/><circle cx="225.04" cy="227.62" r="0.9" fill="#22ee22"/><circle cx="233.46" cy="223.57" r="0.9" fill="#22ee22"/><circle cx="241.88" cy="222.22" r="0.9" fill="#22ee22"/><circle cx="250.3" cy="215.25" r="0.9" fill="#22ee22"/><circle cx="258.72" cy="210.64" r="0.9" fill="#22ee22"/><circle cx="267.14" cy="199.5" r="0.9" fill="#22ee22"/><circle cx="275.56" cy="177.56" r="0.9" fill="#22ee22"/><circle cx="283.98" cy="168.9" r="0.9" fill="#22ee22"/><circle cx="292.4" cy="191.4" r="0.9" fill="#22ee22"/><circle cx="300.82" cy="204.79" r="0.9" fill="#22ee22"/><circle cx="309.24" cy="208.61" r="0.9" fill="#22ee22"/><circle cx="317.66" cy="215.47" r="0.9" fill="#22ee22"/><circle cx="326.08" cy="224.59" r="0.9" fill="#22ee22"/><circle cx="334.5" cy="231.79" r="0.9" fill="#22ee22"/><circle cx="342.92" cy="235.61" r="0.9" fill="#22ee22"/><circle cx="351.34" cy="237.3" r="0.9" fill="#22ee22"/><rect x="289.1" y="263.8" width="62.3" height="17.6" fill="#fff" stroke="#7a7a7a" stroke-width="0.8"/><path d="M290.7 267.14H302.7" stroke="#ff2020" stroke-width="0.5" stroke-opacity="0.8"/><circle cx="296.7" cy="267.14" r="1.5" fill="none" stroke="#ff2020" stroke-width="0.65"/><text x="304.3" y="268.59" font-size="4">Whole image focus</text><path d="M290.7 272.6H302.7" stroke="#1a1aff" stroke-width="0.5" stroke-opacity="0.8"/><circle cx="296.7" cy="272.6" r="1.2" fill="#1a1aff"/><text x="304.3" y="274.04" font-size="4">Traditional center window</text><path d="M290.7 278.06H302.7" stroke="#22ee22" stroke-width="0.5" stroke-opacity="0.8"/><circle cx="296.7" cy="278.06" r="0.9" fill="#22ee22"/><text x="304.3" y="279.5" font-size="4">Dynamic focus window</text><text x="273.5" y="312.2" text-anchor="middle" class="lab"><tspan class="par">(</tspan>e<tspan class="par">)</tspan></text></g>
<g id="pf"><path d="M399.6 171.4V279.4H537.8" fill="none" stroke="#7a7a7a" stroke-width="1"/><path d="M399.6 268.6h1.2M399.6 257.8h1.2M399.6 247h1.2M399.6 236.2h1.2M399.6 225.4h1.2M399.6 214.6h1.2M399.6 203.8h1.2M399.6 193h1.2M399.6 182.2h1.2M399.6 171.4h1.2M415.8 279.4v-1.2M432 279.4v-1.2M448.2 279.4v-1.2M464.4 279.4v-1.2M480.6 279.4v-1.2M496.8 279.4v-1.2M513 279.4v-1.2M529.2 279.4v-1.2" stroke="#7a7a7a" stroke-width="0.6"/><g text-anchor="end" font-size="4.62"><text x="398" y="281.96">0</text><text x="398" y="271.16">0.1</text><text x="398" y="260.36">0.2</text><text x="398" y="249.56">0.3</text><text x="398" y="238.76">0.4</text><text x="398" y="227.96">0.5</text><text x="398" y="217.16">0.6</text><text x="398" y="206.36">0.7</text><text x="398" y="195.56">0.8</text><text x="398" y="184.76">0.9</text><text x="398" y="173.96">1</text></g><g text-anchor="middle" font-size="4.62"><text x="399.6" y="285.66">0</text><text x="415.8" y="285.66">2</text><text x="432" y="285.66">4</text><text x="448.2" y="285.66">6</text><text x="464.4" y="285.66">8</text><text x="480.6" y="285.66">10</text><text x="496.8" y="285.66">12</text><text x="513" y="285.66">14</text><text x="529.2" y="285.66">16</text></g><text x="468.45" y="292.06" text-anchor="middle" font-size="4.62">Picture sequence</text><text transform="translate(387.5 226.2) rotate(-90)" y="1.66" text-anchor="middle" font-size="4.62">Normalized Tenengrad function value</text><polyline points="407.7,222.16 415.8,218.81 423.9,216.87 432,213.84 440.1,199.8 448.2,197.32 456.3,192.68 464.4,181.77 472.5,171.4 480.6,189.44 488.7,202.29 496.8,208.77 504.9,213.95 513,214.38 521.1,218.92 529.2,223.24 537.3,225.18" fill="none" stroke="#ff2020" stroke-width="0.8"/><circle cx="407.7" cy="222.16" r="1.55" fill="none" stroke="#ff2020" stroke-width="0.65"/><circle cx="415.8" cy="218.81" r="1.55" fill="none" stroke="#ff2020" stroke-width="0.65"/><circle cx="423.9" cy="216.87" r="1.55" fill="none" stroke="#ff2020" stroke-width="0.65"/><circle cx="432" cy="213.84" r="1.55" fill="none" stroke="#ff2020" stroke-width="0.65"/><circle cx="440.1" cy="199.8" r="1.55" fill="none" stroke="#ff2020" stroke-width="0.65"/><circle cx="448.2" cy="197.32" r="1.55" fill="none" stroke="#ff2020" stroke-width="0.65"/><circle cx="456.3" cy="192.68" r="1.55" fill="none" stroke="#ff2020" stroke-width="0.65"/><circle cx="464.4" cy="181.77" r="1.55" fill="none" stroke="#ff2020" stroke-width="0.65"/><circle cx="472.5" cy="171.4" r="1.55" fill="none" stroke="#ff2020" stroke-width="0.65"/><circle cx="480.6" cy="189.44" r="1.55" fill="none" stroke="#ff2020" stroke-width="0.65"/><circle cx="488.7" cy="202.29" r="1.55" fill="none" stroke="#ff2020" stroke-width="0.65"/><circle cx="496.8" cy="208.77" r="1.55" fill="none" stroke="#ff2020" stroke-width="0.65"/><circle cx="504.9" cy="213.95" r="1.55" fill="none" stroke="#ff2020" stroke-width="0.65"/><circle cx="513" cy="214.38" r="1.55" fill="none" stroke="#ff2020" stroke-width="0.65"/><circle cx="521.1" cy="218.92" r="1.55" fill="none" stroke="#ff2020" stroke-width="0.65"/><circle cx="529.2" cy="223.24" r="1.55" fill="none" stroke="#ff2020" stroke-width="0.65"/><circle cx="537.3" cy="225.18" r="1.55" fill="none" stroke="#ff2020" stroke-width="0.65"/><polyline points="407.7,206.93 415.8,199.8 423.9,192.68 432,189.44 440.1,185.33 448.2,183.82 456.3,177.77 464.4,171.62 472.5,171.4 480.6,173.45 488.7,179.61 496.8,181.77 504.9,182.42 513,184.79 521.1,185.22 529.2,189.44 537.3,192.03" fill="none" stroke="#1a1aff" stroke-width="0.8"/><circle cx="407.7" cy="206.93" r="1.25" fill="#1a1aff"/><circle cx="415.8" cy="199.8" r="1.25" fill="#1a1aff"/><circle cx="423.9" cy="192.68" r="1.25" fill="#1a1aff"/><circle cx="432" cy="189.44" r="1.25" fill="#1a1aff"/><circle cx="440.1" cy="185.33" r="1.25" fill="#1a1aff"/><circle cx="448.2" cy="183.82" r="1.25" fill="#1a1aff"/><circle cx="456.3" cy="177.77" r="1.25" fill="#1a1aff"/><circle cx="464.4" cy="171.62" r="1.25" fill="#1a1aff"/><circle cx="472.5" cy="171.4" r="1.25" fill="#1a1aff"/><circle cx="480.6" cy="173.45" r="1.25" fill="#1a1aff"/><circle cx="488.7" cy="179.61" r="1.25" fill="#1a1aff"/><circle cx="496.8" cy="181.77" r="1.25" fill="#1a1aff"/><circle cx="504.9" cy="182.42" r="1.25" fill="#1a1aff"/><circle cx="513" cy="184.79" r="1.25" fill="#1a1aff"/><circle cx="521.1" cy="185.22" r="1.25" fill="#1a1aff"/><circle cx="529.2" cy="189.44" r="1.25" fill="#1a1aff"/><circle cx="537.3" cy="192.03" r="1.25" fill="#1a1aff"/><polyline points="407.7,229.94 415.8,227.99 423.9,223.78 432,220 440.1,213.84 448.2,205.53 456.3,201.86 464.4,188.9 472.5,171.4 480.6,198.62 488.7,207.47 496.8,213.95 504.9,219.14 513,224.75 521.1,230.37 529.2,235.88 537.3,235.88" fill="none" stroke="#22ee22" stroke-width="0.8"/><circle cx="407.7" cy="229.94" r="0.9" fill="#22ee22"/><circle cx="415.8" cy="227.99" r="0.9" fill="#22ee22"/><circle cx="423.9" cy="223.78" r="0.9" fill="#22ee22"/><circle cx="432" cy="220" r="0.9" fill="#22ee22"/><circle cx="440.1" cy="213.84" r="0.9" fill="#22ee22"/><circle cx="448.2" cy="205.53" r="0.9" fill="#22ee22"/><circle cx="456.3" cy="201.86" r="0.9" fill="#22ee22"/><circle cx="464.4" cy="188.9" r="0.9" fill="#22ee22"/><circle cx="472.5" cy="171.4" r="0.9" fill="#22ee22"/><circle cx="480.6" cy="198.62" r="0.9" fill="#22ee22"/><circle cx="488.7" cy="207.47" r="0.9" fill="#22ee22"/><circle cx="496.8" cy="213.95" r="0.9" fill="#22ee22"/><circle cx="504.9" cy="219.14" r="0.9" fill="#22ee22"/><circle cx="513" cy="224.75" r="0.9" fill="#22ee22"/><circle cx="521.1" cy="230.37" r="0.9" fill="#22ee22"/><circle cx="529.2" cy="235.88" r="0.9" fill="#22ee22"/><circle cx="537.3" cy="235.88" r="0.9" fill="#22ee22"/><rect x="477.4" y="262.4" width="60.4" height="17" fill="#fff" stroke="#7a7a7a" stroke-width="0.8"/><path d="M479 265.63H491" stroke="#ff2020" stroke-width="0.5" stroke-opacity="0.8"/><circle cx="485" cy="265.63" r="1.5" fill="none" stroke="#ff2020" stroke-width="0.65"/><text x="492.6" y="267.01" font-size="3.84">Whole image focus</text><path d="M479 270.9H491" stroke="#1a1aff" stroke-width="0.5" stroke-opacity="0.8"/><circle cx="485" cy="270.9" r="1.2" fill="#1a1aff"/><text x="492.6" y="272.28" font-size="3.84">Traditional center window</text><path d="M479 276.17H491" stroke="#22ee22" stroke-width="0.5" stroke-opacity="0.8"/><circle cx="485" cy="276.17" r="0.9" fill="#22ee22"/><text x="492.6" y="277.55" font-size="3.84">Dynamic focus window</text><text x="465" y="312.5" text-anchor="middle" class="lab"><tspan class="par">(</tspan>f<tspan class="par">)</tspan></text></g>
<g id="pg"><path d="M63.2 331.2V444.4H208.2" fill="none" stroke="#7a7a7a" stroke-width="1"/><path d="M63.2 433.08h1.2M63.2 421.76h1.2M63.2 410.44h1.2M63.2 399.12h1.2M63.2 387.8h1.2M63.2 376.48h1.2M63.2 365.16h1.2M63.2 353.84h1.2M63.2 342.52h1.2M63.2 331.2h1.2M80.12 444.4v-1.2M97.04 444.4v-1.2M113.96 444.4v-1.2M130.88 444.4v-1.2M147.8 444.4v-1.2M164.72 444.4v-1.2M181.64 444.4v-1.2M198.56 444.4v-1.2" stroke="#7a7a7a" stroke-width="0.6"/><g text-anchor="end" font-size="4.84"><text x="61.6" y="447.04">0</text><text x="61.6" y="435.72">0.1</text><text x="61.6" y="424.4">0.2</text><text x="61.6" y="413.08">0.3</text><text x="61.6" y="401.76">0.4</text><text x="61.6" y="390.44">0.5</text><text x="61.6" y="379.12">0.6</text><text x="61.6" y="367.8">0.7</text><text x="61.6" y="356.48">0.8</text><text x="61.6" y="345.16">0.9</text><text x="61.6" y="333.84">1</text></g><g text-anchor="middle" font-size="4.84"><text x="63.2" y="450.74">0</text><text x="80.12" y="450.74">2</text><text x="97.04" y="450.74">4</text><text x="113.96" y="450.74">6</text><text x="130.88" y="450.74">8</text><text x="147.8" y="450.74">10</text><text x="164.72" y="450.74">12</text><text x="181.64" y="450.74">14</text><text x="198.56" y="450.74">16</text></g><text x="135.11" y="457.14" text-anchor="middle" font-size="4.84">Picture sequence</text><text transform="translate(51.1 388.6) rotate(-90)" y="1.74" text-anchor="middle" font-size="4.84">Normalized Tenengrad function value</text><polyline points="71.66,386.22 80.12,384.63 88.58,381.69 97.04,377.61 105.5,369.35 113.96,356.1 122.42,347.27 130.88,333.92 139.34,331.2 147.8,334.37 156.26,346.93 164.72,357.46 173.18,366.74 181.64,372.97 190.1,376.71 198.56,379.54 207.02,380.78" fill="none" stroke="#ff2020" stroke-width="0.8"/><circle cx="71.66" cy="386.22" r="1.55" fill="none" stroke="#ff2020" stroke-width="0.65"/><circle cx="80.12" cy="384.63" r="1.55" fill="none" stroke="#ff2020" stroke-width="0.65"/><circle cx="88.58" cy="381.69" r="1.55" fill="none" stroke="#ff2020" stroke-width="0.65"/><circle cx="97.04" cy="377.61" r="1.55" fill="none" stroke="#ff2020" stroke-width="0.65"/><circle cx="105.5" cy="369.35" r="1.55" fill="none" stroke="#ff2020" stroke-width="0.65"/><circle cx="113.96" cy="356.1" r="1.55" fill="none" stroke="#ff2020" stroke-width="0.65"/><circle cx="122.42" cy="347.27" r="1.55" fill="none" stroke="#ff2020" stroke-width="0.65"/><circle cx="130.88" cy="333.92" r="1.55" fill="none" stroke="#ff2020" stroke-width="0.65"/><circle cx="139.34" cy="331.2" r="1.55" fill="none" stroke="#ff2020" stroke-width="0.65"/><circle cx="147.8" cy="334.37" r="1.55" fill="none" stroke="#ff2020" stroke-width="0.65"/><circle cx="156.26" cy="346.93" r="1.55" fill="none" stroke="#ff2020" stroke-width="0.65"/><circle cx="164.72" cy="357.46" r="1.55" fill="none" stroke="#ff2020" stroke-width="0.65"/><circle cx="173.18" cy="366.74" r="1.55" fill="none" stroke="#ff2020" stroke-width="0.65"/><circle cx="181.64" cy="372.97" r="1.55" fill="none" stroke="#ff2020" stroke-width="0.65"/><circle cx="190.1" cy="376.71" r="1.55" fill="none" stroke="#ff2020" stroke-width="0.65"/><circle cx="198.56" cy="379.54" r="1.55" fill="none" stroke="#ff2020" stroke-width="0.65"/><circle cx="207.02" cy="380.78" r="1.55" fill="none" stroke="#ff2020" stroke-width="0.65"/><polyline points="71.66,370.82 80.12,363.91 88.58,358.82 97.04,355.88 105.5,351.01 113.96,349.76 122.42,347.27 130.88,336.18 139.34,331.2 147.8,339.46 156.26,347.39 164.72,351.12 173.18,357.12 181.64,360.52 190.1,365.16 198.56,367.76 207.02,371.95" fill="none" stroke="#1a1aff" stroke-width="0.8"/><circle cx="71.66" cy="370.82" r="1.25" fill="#1a1aff"/><circle cx="80.12" cy="363.91" r="1.25" fill="#1a1aff"/><circle cx="88.58" cy="358.82" r="1.25" fill="#1a1aff"/><circle cx="97.04" cy="355.88" r="1.25" fill="#1a1aff"/><circle cx="105.5" cy="351.01" r="1.25" fill="#1a1aff"/><circle cx="113.96" cy="349.76" r="1.25" fill="#1a1aff"/><circle cx="122.42" cy="347.27" r="1.25" fill="#1a1aff"/><circle cx="130.88" cy="336.18" r="1.25" fill="#1a1aff"/><circle cx="139.34" cy="331.2" r="1.25" fill="#1a1aff"/><circle cx="147.8" cy="339.46" r="1.25" fill="#1a1aff"/><circle cx="156.26" cy="347.39" r="1.25" fill="#1a1aff"/><circle cx="164.72" cy="351.12" r="1.25" fill="#1a1aff"/><circle cx="173.18" cy="357.12" r="1.25" fill="#1a1aff"/><circle cx="181.64" cy="360.52" r="1.25" fill="#1a1aff"/><circle cx="190.1" cy="365.16" r="1.25" fill="#1a1aff"/><circle cx="198.56" cy="367.76" r="1.25" fill="#1a1aff"/><circle cx="207.02" cy="371.95" r="1.25" fill="#1a1aff"/><polyline points="71.66,396.29 80.12,379.65 88.58,375.01 97.04,368.78 105.5,363.35 113.96,352.71 122.42,346.14 130.88,335.95 139.34,331.2 147.8,353.05 156.26,360.52 164.72,370.59 173.18,385.65 181.64,401.38 190.1,404.67 198.56,409.19 207.02,414.97" fill="none" stroke="#22ee22" stroke-width="0.8"/><circle cx="71.66" cy="396.29" r="0.9" fill="#22ee22"/><circle cx="80.12" cy="379.65" r="0.9" fill="#22ee22"/><circle cx="88.58" cy="375.01" r="0.9" fill="#22ee22"/><circle cx="97.04" cy="368.78" r="0.9" fill="#22ee22"/><circle cx="105.5" cy="363.35" r="0.9" fill="#22ee22"/><circle cx="113.96" cy="352.71" r="0.9" fill="#22ee22"/><circle cx="122.42" cy="346.14" r="0.9" fill="#22ee22"/><circle cx="130.88" cy="335.95" r="0.9" fill="#22ee22"/><circle cx="139.34" cy="331.2" r="0.9" fill="#22ee22"/><circle cx="147.8" cy="353.05" r="0.9" fill="#22ee22"/><circle cx="156.26" cy="360.52" r="0.9" fill="#22ee22"/><circle cx="164.72" cy="370.59" r="0.9" fill="#22ee22"/><circle cx="173.18" cy="385.65" r="0.9" fill="#22ee22"/><circle cx="181.64" cy="401.38" r="0.9" fill="#22ee22"/><circle cx="190.1" cy="404.67" r="0.9" fill="#22ee22"/><circle cx="198.56" cy="409.19" r="0.9" fill="#22ee22"/><circle cx="207.02" cy="414.97" r="0.9" fill="#22ee22"/><rect x="145.2" y="426.4" width="63" height="17.8" fill="#fff" stroke="#7a7a7a" stroke-width="0.8"/><path d="M146.8 429.78H158.8" stroke="#ff2020" stroke-width="0.5" stroke-opacity="0.8"/><circle cx="152.8" cy="429.78" r="1.5" fill="none" stroke="#ff2020" stroke-width="0.65"/><text x="160.4" y="431.23" font-size="4.03">Whole image focus</text><path d="M146.8 435.3H158.8" stroke="#1a1aff" stroke-width="0.5" stroke-opacity="0.8"/><circle cx="152.8" cy="435.3" r="1.2" fill="#1a1aff"/><text x="160.4" y="436.75" font-size="4.03">Traditional center window</text><path d="M146.8 440.82H158.8" stroke="#22ee22" stroke-width="0.5" stroke-opacity="0.8"/><circle cx="152.8" cy="440.82" r="0.9" fill="#22ee22"/><text x="160.4" y="442.27" font-size="4.03">Dynamic focus window</text><text x="131.7" y="476.5" text-anchor="middle" class="lab"><tspan class="par">(</tspan>g<tspan class="par">)</tspan></text></g>
<g id="ph"><path d="M347.9 330.4V445H494.5" fill="none" stroke="#7a7a7a" stroke-width="1"/><path d="M347.9 433.54h1.2M347.9 422.08h1.2M347.9 410.62h1.2M347.9 399.16h1.2M347.9 387.7h1.2M347.9 376.24h1.2M347.9 364.78h1.2M347.9 353.32h1.2M347.9 341.86h1.2M347.9 330.4h1.2M365.02 445v-1.2M382.14 445v-1.2M399.26 445v-1.2M416.38 445v-1.2M433.5 445v-1.2M450.62 445v-1.2M467.74 445v-1.2M484.86 445v-1.2" stroke="#7a7a7a" stroke-width="0.6"/><g text-anchor="end" font-size="4.9"><text x="346.3" y="447.67">0</text><text x="346.3" y="436.21">0.1</text><text x="346.3" y="424.75">0.2</text><text x="346.3" y="413.29">0.3</text><text x="346.3" y="401.83">0.4</text><text x="346.3" y="390.37">0.5</text><text x="346.3" y="378.91">0.6</text><text x="346.3" y="367.45">0.7</text><text x="346.3" y="355.99">0.8</text><text x="346.3" y="344.53">0.9</text><text x="346.3" y="333.07">1</text></g><g text-anchor="middle" font-size="4.9"><text x="347.9" y="451.37">0</text><text x="365.02" y="451.37">2</text><text x="382.14" y="451.37">4</text><text x="399.26" y="451.37">6</text><text x="416.38" y="451.37">8</text><text x="433.5" y="451.37">10</text><text x="450.62" y="451.37">12</text><text x="467.74" y="451.37">14</text><text x="484.86" y="451.37">16</text></g><text x="420.66" y="457.77" text-anchor="middle" font-size="4.9">Picture sequence</text><text transform="translate(335.8 388.5) rotate(-90)" y="1.77" text-anchor="middle" font-size="4.9">Normalized Tenengrad function value</text><polyline points="356.46,337.85 365.02,337.28 373.58,337.28 382.14,336.02 390.7,335.67 399.26,334.75 407.82,334.75 416.38,332.92 424.94,330.4 433.5,332.69 442.06,334.3 450.62,336.02 459.18,337.05 467.74,339.57 476.3,340.71 484.86,341.97 493.42,343.58" fill="none" stroke="#ff2020" stroke-width="0.8"/><circle cx="356.46" cy="337.85" r="1.55" fill="none" stroke="#ff2020" stroke-width="0.65"/><circle cx="365.02" cy="337.28" r="1.55" fill="none" stroke="#ff2020" stroke-width="0.65"/><circle cx="373.58" cy="337.28" r="1.55" fill="none" stroke="#ff2020" stroke-width="0.65"/><circle cx="382.14" cy="336.02" r="1.55" fill="none" stroke="#ff2020" stroke-width="0.65"/><circle cx="390.7" cy="335.67" r="1.55" fill="none" stroke="#ff2020" stroke-width="0.65"/><circle cx="399.26" cy="334.75" r="1.55" fill="none" stroke="#ff2020" stroke-width="0.65"/><circle cx="407.82" cy="334.75" r="1.55" fill="none" stroke="#ff2020" stroke-width="0.65"/><circle cx="416.38" cy="332.92" r="1.55" fill="none" stroke="#ff2020" stroke-width="0.65"/><circle cx="424.94" cy="330.4" r="1.55" fill="none" stroke="#ff2020" stroke-width="0.65"/><circle cx="433.5" cy="332.69" r="1.55" fill="none" stroke="#ff2020" stroke-width="0.65"/><circle cx="442.06" cy="334.3" r="1.55" fill="none" stroke="#ff2020" stroke-width="0.65"/><circle cx="450.62" cy="336.02" r="1.55" fill="none" stroke="#ff2020" stroke-width="0.65"/><circle cx="459.18" cy="337.05" r="1.55" fill="none" stroke="#ff2020" stroke-width="0.65"/><circle cx="467.74" cy="339.57" r="1.55" fill="none" stroke="#ff2020" stroke-width="0.65"/><circle cx="476.3" cy="340.71" r="1.55" fill="none" stroke="#ff2020" stroke-width="0.65"/><circle cx="484.86" cy="341.97" r="1.55" fill="none" stroke="#ff2020" stroke-width="0.65"/><circle cx="493.42" cy="343.58" r="1.55" fill="none" stroke="#ff2020" stroke-width="0.65"/><polyline points="356.46,350 365.02,348.16 373.58,337.51 382.14,334.53 390.7,332.92 399.26,332.35 407.82,331.43 416.38,330.4 424.94,330.4 433.5,332.69 442.06,334.98 450.62,336.24 459.18,337.62 467.74,340.37 476.3,341.52 484.86,342.78 493.42,345.3" fill="none" stroke="#1a1aff" stroke-width="0.8"/><circle cx="356.46" cy="350" r="1.25" fill="#1a1aff"/><circle cx="365.02" cy="348.16" r="1.25" fill="#1a1aff"/><circle cx="373.58" cy="337.51" r="1.25" fill="#1a1aff"/><circle cx="382.14" cy="334.53" r="1.25" fill="#1a1aff"/><circle cx="390.7" cy="332.92" r="1.25" fill="#1a1aff"/><circle cx="399.26" cy="332.35" r="1.25" fill="#1a1aff"/><circle cx="407.82" cy="331.43" r="1.25" fill="#1a1aff"/><circle cx="416.38" cy="330.4" r="1.25" fill="#1a1aff"/><circle cx="424.94" cy="330.4" r="1.25" fill="#1a1aff"/><circle cx="433.5" cy="332.69" r="1.25" fill="#1a1aff"/><circle cx="442.06" cy="334.98" r="1.25" fill="#1a1aff"/><circle cx="450.62" cy="336.24" r="1.25" fill="#1a1aff"/><circle cx="459.18" cy="337.62" r="1.25" fill="#1a1aff"/><circle cx="467.74" cy="340.37" r="1.25" fill="#1a1aff"/><circle cx="476.3" cy="341.52" r="1.25" fill="#1a1aff"/><circle cx="484.86" cy="342.78" r="1.25" fill="#1a1aff"/><circle cx="493.42" cy="345.3" r="1.25" fill="#1a1aff"/><polyline points="356.46,377.5 365.02,370.97 373.58,362.03 382.14,353.32 390.7,350 399.26,341.63 407.82,335.1 416.38,332.35 424.94,330.4 433.5,333.84 442.06,347.25 450.62,351.83 459.18,354.81 467.74,354.81 476.3,356.19 484.86,357.1 493.42,358.71" fill="none" stroke="#22ee22" stroke-width="0.8"/><circle cx="356.46" cy="377.5" r="0.9" fill="#22ee22"/><circle cx="365.02" cy="370.97" r="0.9" fill="#22ee22"/><circle cx="373.58" cy="362.03" r="0.9" fill="#22ee22"/><circle cx="382.14" cy="353.32" r="0.9" fill="#22ee22"/><circle cx="390.7" cy="350" r="0.9" fill="#22ee22"/><circle cx="399.26" cy="341.63" r="0.9" fill="#22ee22"/><circle cx="407.82" cy="335.1" r="0.9" fill="#22ee22"/><circle cx="416.38" cy="332.35" r="0.9" fill="#22ee22"/><circle cx="424.94" cy="330.4" r="0.9" fill="#22ee22"/><circle cx="433.5" cy="333.84" r="0.9" fill="#22ee22"/><circle cx="442.06" cy="347.25" r="0.9" fill="#22ee22"/><circle cx="450.62" cy="351.83" r="0.9" fill="#22ee22"/><circle cx="459.18" cy="354.81" r="0.9" fill="#22ee22"/><circle cx="467.74" cy="354.81" r="0.9" fill="#22ee22"/><circle cx="476.3" cy="356.19" r="0.9" fill="#22ee22"/><circle cx="484.86" cy="357.1" r="0.9" fill="#22ee22"/><circle cx="493.42" cy="358.71" r="0.9" fill="#22ee22"/><rect x="430.5" y="426.9" width="64" height="18.1" fill="#fff" stroke="#7a7a7a" stroke-width="0.8"/><path d="M432.1 430.34H444.1" stroke="#ff2020" stroke-width="0.5" stroke-opacity="0.8"/><circle cx="438.1" cy="430.34" r="1.5" fill="none" stroke="#ff2020" stroke-width="0.65"/><text x="445.7" y="431.81" font-size="4.08">Whole image focus</text><path d="M432.1 435.95H444.1" stroke="#1a1aff" stroke-width="0.5" stroke-opacity="0.8"/><circle cx="438.1" cy="435.95" r="1.2" fill="#1a1aff"/><text x="445.7" y="437.42" font-size="4.08">Traditional center window</text><path d="M432.1 441.56H444.1" stroke="#22ee22" stroke-width="0.5" stroke-opacity="0.8"/><circle cx="438.1" cy="441.56" r="0.9" fill="#22ee22"/><text x="445.7" y="443.03" font-size="4.08">Dynamic focus window</text><text x="417" y="476.5" text-anchor="middle" class="lab"><tspan class="par">(</tspan>h<tspan class="par">)</tspan></text></g>
</svg>
</body></html>
